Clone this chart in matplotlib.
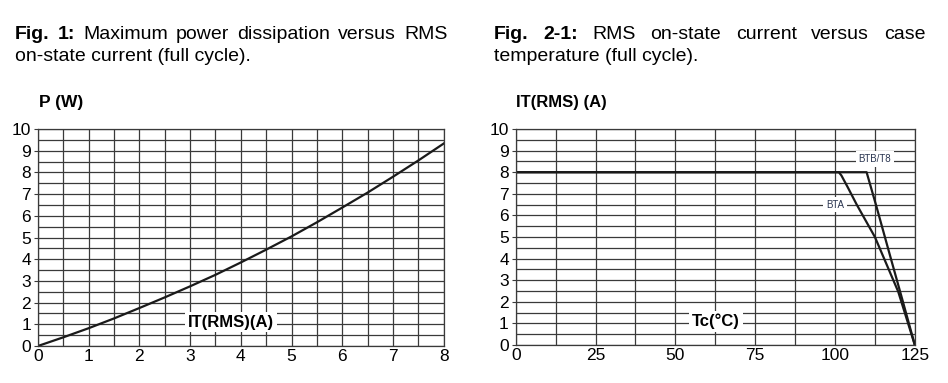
import matplotlib
matplotlib.use("Agg")
import matplotlib.pyplot as plt
import numpy as np

plt.rcParams['font.family'] = ['Liberation Sans', 'DejaVu Sans']

# Fig. 1 : power dissipation vs RMS current
it_rms = [0, 0.5, 1, 1.5, 2, 2.5, 3, 3.5, 4, 4.5, 5, 5.5, 6, 6.5, 7, 7.5, 8]
p_max = [0, 0.40, 0.82, 1.27, 1.75, 2.24, 2.75, 3.28, 3.85, 4.44, 5.05,
         5.70, 6.38, 7.07, 7.80, 8.55, 9.33]

# Fig. 2-1 : RMS current vs case temperature
tc_bta = [0, 101.2, 102, 104, 106.8, 112.5, 119.8, 125]
it_bta = [8, 8, 7.85, 7.3, 6.5, 5.0, 2.47, 0]
tc_btb = [0, 109.9, 113, 117.5, 121, 125]
it_btb = [8, 8, 6.4, 4.0, 2.15, 0]

fig = plt.figure(figsize=(9.48, 3.83), dpi=100)

grid_col = '#3a3a3a'
box = dict(facecolor='white', edgecolor='none', pad=2)


def setup(ax, xmax, xstep, xticks):
    ax.set_xlim(0, xmax)
    ax.set_ylim(0, 10)
    ax.set_xticks(np.arange(0, xmax + 0.01, xstep), minor=True)
    ax.set_yticks(np.arange(0, 10.01, 0.5), minor=True)
    ax.set_xticks(xticks)
    ax.set_yticks(range(0, 11))
    ax.grid(True, which='both', color=grid_col, lw=0.9)
    for s in ax.spines.values():
        s.set_color(grid_col)
        s.set_linewidth(0.9)
    ax.tick_params(which='both', length=0, labelsize=12.5, colors='black', pad=2)
    ax.tick_params(axis='y', which='major', length=3, direction='out', color=grid_col)
    ax.set_axisbelow(True)


def justify(words, y, x0, x1, styles):
    # place words so the line fills x0..x1 (figure fraction)
    r = fig.canvas.get_renderer()
    texts = []
    for w, st in zip(words, styles):
        texts.append(fig.text(0, y, w, fontsize=14, fontweight=st, va='baseline'))
    widths = [t.get_window_extent(r).width / fig.bbox.width for t in texts]
    gap = (x1 - x0 - sum(widths)) / (len(words) - 1)
    x = x0
    for t, w in zip(texts, widths):
        t.set_x(x)
        x += w + gap


# left chart
ax1 = fig.add_axes([0.040, 0.0966, 0.428, 0.5665])
setup(ax1, 8, 0.5, range(0, 9))
ax1.plot(it_rms, p_max, color='#1a1a1a', lw=1.6)
ax1.text(3.8, 1.1, 'IT(RMS)(A)', fontsize=12, fontweight='bold',
         ha='center', va='center', bbox=box)
fig.text(0.041, 0.72, 'P (W)', fontsize=12.5, fontweight='bold')

justify(['Fig.', '1:', 'Maximum', 'power', 'dissipation', 'versus', 'RMS'],
        0.897, 0.016, 0.472, ['bold', 'bold'] + ['normal'] * 5)
fig.text(0.016, 0.84, 'on-state current (full cycle).', fontsize=14, va='baseline')

# right chart
ax2 = fig.add_axes([0.544, 0.0992, 0.421, 0.5640])
setup(ax2, 125, 12.5, range(0, 126, 25))
ax2.plot(tc_bta, it_bta, color='#1a1a1a', lw=1.6)
ax2.plot(tc_btb, it_btb, color='#1a1a1a', lw=1.6)
ax2.text(112.5, 8.6, 'BTB/T8', fontsize=7, color='#2a3550',
         ha='center', va='center', bbox=box)
ax2.text(100, 6.5, 'BTA', fontsize=7, color='#2a3550',
         ha='center', va='center', bbox=box)
ax2.text(62.7, 1.1, 'Tc(°C)', fontsize=12, fontweight='bold',
         ha='center', va='center', bbox=box)
fig.text(0.544, 0.72, 'IT(RMS) (A)', fontsize=12, fontweight='bold')

justify(['Fig.', '2-1:', 'RMS', 'on-state', 'current', 'versus', 'case'],
        0.897, 0.521, 0.976, ['bold', 'bold'] + ['normal'] * 5)
fig.text(0.521, 0.84, 'temperature (full cycle).', fontsize=14, va='baseline')

fig.savefig('out.png', dpi=100, facecolor='white')
